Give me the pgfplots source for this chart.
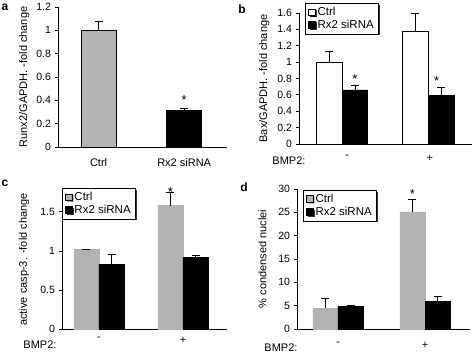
\documentclass[border=0pt]{standalone}
\usepackage{fontspec}
\setmainfont{Liberation Sans}
\usepackage{pgfplots}
\pgfplotsset{compat=1.18}
\usetikzlibrary{shadows}
\definecolor{bargray}{RGB}{178,178,178}
\pgfplotsset{
  panel/.style={
    scale only axis,
    anchor=south west,
    axis x line=bottom, axis y line=left,
    axis line style={-, black, line width=0.8bp},
    tick align=outside,
    major tick length=3.5bp,
    xtick style={draw=none},
    ytick style={black, line width=0.8bp},
    ymin=0,
    /pgf/number format/assume math mode=true,
    yticklabel style={font=\fontsize{10.5bp}{12bp}\selectfont},
    xticklabel style={font=\fontsize{11bp}{13bp}\selectfont},
    ylabel style={font=\fontsize{11bp}{13bp}\selectfont, anchor=center},
    legend style={font=\fontsize{11.5bp}{13bp}\selectfont, draw=black, line width=0.8bp,
      fill=white, drop shadow={shadow xshift=1.2bp, shadow yshift=-1.2bp, fill=black, opacity=0.8},
      inner xsep=3bp, inner ysep=2bp, row sep=-1bp, cells={anchor=west}, anchor=north west},
    ybar, bar shift=0pt,
    clip=false,
  },
  lg/.style={legend image code/.code={\draw[##1, draw=black, line width=0.6bp] (0bp,-3bp) rectangle (6.5bp,3.5bp);}},
  eb/.style={error bars/.cd, y dir=plus, y explicit,
    error mark options={rotate=90, mark size=4bp, line width=0.8bp, black},
    error bar style={line width=0.8bp, black}},
}
\newcommand{\st}{{\fontsize{13bp}{13bp}\selectfont *}}
\begin{document}
\begin{tikzpicture}[x=1bp,y=1bp]
\useasboundingbox (0bp,0bp) rectangle (474bp,354bp);
% panel a
\begin{axis}[panel, at={(58bp,207bp)}, width=169bp, height=140bp,
  xmin=0.526, xmax=2.5, ymax=1.2, bar width=0.41,
  ytick={0,0.2,0.4,0.6,0.8,1,1.2},
  xtick={1,2}, xticklabels={Ctrl, Rx2 siRNA},
  xticklabel style={yshift=-5bp},
  ylabel={Runx2/GAPDH. -fold change},
  ylabel style={at={(axis description cs:-0.2,0.5)}}]
\addplot[fill=bargray, draw=black, line width=0.8bp, eb] table[x=x,y=y,y error=e]{
x y e
1 1.0 0.075
};
\addplot[fill=black, draw=black, line width=0.8bp, eb] table[x=x,y=y,y error=e]{
x y e
2 0.31 0.025
};
\node[anchor=south] at (axis cs:2,0.33) {\st};
\end{axis}
% panel b
\begin{axis}[panel, at={(299bp,210bp)}, width=173bp, height=131bp,
  xmin=0.5, xmax=2.51, ymax=1.6, bar width=0.3,
  ytick={0,0.2,0.4,0.6,0.8,1,1.2,1.4,1.6},
  xtick={1.06,2.02}, xticklabels={-,+},
  xticklabel style={yshift=-4bp},
  ylabel={Bax/GAPDH. -fold change},
  ylabel style={at={(axis description cs:-0.2,0.5)}},
  legend style={at={(axis description cs:0.035,1.076)}}]
\addplot[fill=white, draw=black, line width=0.8bp, lg, eb] table[x=x,y=y,y error=e]{
x y e
0.85 1.0 0.13
1.85 1.38 0.22
};
\addlegendentry{Ctrl}
\addplot[fill=black, draw=black, line width=0.8bp, lg, eb] table[x=x,y=y,y error=e]{
x y e
1.15 0.66 0.06
2.15 0.59 0.10
};
\addlegendentry{Rx2 siRNA}
\node[anchor=south] at (axis cs:1.15,0.70) {\st};
\node[anchor=south] at (axis cs:2.1,0.67) {\st};
\end{axis}
% panel c
\begin{axis}[panel, at={(62bp,25bp)}, width=165bp, height=139bp,
  xmin=0.56, xmax=2.524, ymax=1.78, bar width=0.3,
  ytick={0,0.5,1,1.5},
  xtick={1,2}, xticklabels={-,+},
  xticklabel style={yshift=-1bp},
  ylabel={active casp-3. -fold change},
  ylabel style={at={(axis description cs:-0.23,0.5)}},
  legend style={at={(axis description cs:0,1.014)}}]
\addplot[fill=bargray, draw=bargray, line width=0.5bp, lg, eb] table[x=x,y=y,y error=e]{
x y e
0.85 1.02 0.0
1.85 1.58 0.17
};
\addlegendentry{Ctrl}
\addplot[fill=black, draw=black, line width=0.5bp, lg, eb] table[x=x,y=y,y error=e]{
x y e
1.15 0.83 0.12
2.15 0.92 0.02
};
\addlegendentry{Rx2 siRNA}
\node[anchor=center] at (axis cs:1.85,1.76) {\st};
\end{axis}
% panel d
\begin{axis}[panel, at={(297bp,25bp)}, width=173bp, height=140bp,
  xmin=0.529, xmax=2.517, ymax=30, bar width=0.29,
  ytick={0,5,10,15,20,25,30},
  xtick={1,2}, xticklabels={-,+},
  xticklabel style={yshift=-6bp},
  ylabel={\% condensed nuclei},
  ylabel style={at={(axis description cs:-0.2,0.5)}},
  legend style={at={(axis description cs:0.035,0.993)}}]
\addplot[fill=bargray, draw=bargray, line width=0.5bp, lg, eb] table[x=x,y=y,y error=e]{
x y e
0.855 4.4 2.2
1.855 25.1 2.6
};
\addlegendentry{Ctrl}
\addplot[fill=black, draw=black, line width=0.5bp, lg, eb] table[x=x,y=y,y error=e]{
x y e
1.145 4.9 0.1
2.145 5.9 1.1
};
\addlegendentry{Rx2 siRNA}
\node[anchor=center] at (axis cs:1.855,28.9) {\st};
\end{axis}
% annotations
\node[font=\fontsize{11bp}{13bp}\selectfont] at (289bp,193bp) {BMP2:};
\node[font=\fontsize{11bp}{13bp}\selectfont] at (40bp,9bp) {BMP2:};
\node[font=\fontsize{11bp}{13bp}\selectfont] at (281bp,6bp) {BMP2:};
\node[font=\bfseries\fontsize{12bp}{13bp}\selectfont] at (5bp,347bp) {a};
\node[font=\bfseries\fontsize{12bp}{13bp}\selectfont] at (242bp,345bp) {b};
\node[font=\bfseries\fontsize{12bp}{13bp}\selectfont] at (5bp,171bp) {c};
\node[font=\bfseries\fontsize{12bp}{13bp}\selectfont] at (244bp,167bp) {d};
\end{tikzpicture}
\end{document}
